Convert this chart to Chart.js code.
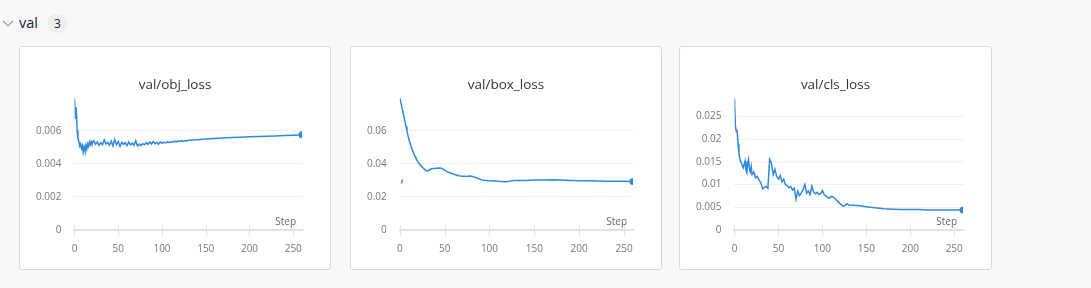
<!DOCTYPE html>
<html><head><meta charset="utf-8">
<script src="https://cdn.jsdelivr.net/npm/chart.js@4.4.1/dist/chart.umd.min.js"></script>
<style>
html,body{margin:0;padding:0;background:#f8f8f8;width:1091px;height:288px;overflow:hidden;font-family:"Open Sans",sans-serif;}
.chev{position:absolute;left:2px;top:19px;}
.grp{position:absolute;left:19px;top:13px;font-size:14.5px;line-height:20px;color:#22223f;}
.badge{position:absolute;left:47px;top:14px;width:21px;height:19px;border-radius:10px;background:#efefef;font-size:12px;line-height:19px;text-align:center;color:#22223f;}
.panel{position:absolute;top:46px;width:312px;height:224px;background:#fff;border:1px solid #dadada;border-radius:3px;box-sizing:border-box;}
.panel canvas{position:absolute;left:0;top:0;}
.ttl{position:absolute;left:0;right:0;top:28px;text-align:center;font-size:13.5px;line-height:18px;color:#333;}
</style></head>
<body>
<svg class="chev" width="12" height="10" viewBox="0 0 12 10"><polyline points="1,2 6,7 11,2" fill="none" stroke="#9a9a9a" stroke-width="1.2"/></svg>
<div class="grp">val</div>
<div class="badge">3</div>
<div class="panel" style="left:19px"><canvas id="c1" width="310" height="222"></canvas><div class="ttl">val/obj_loss</div></div>
<div class="panel" style="left:350px"><canvas id="c2" width="310" height="222"></canvas><div class="ttl">val/box_loss</div></div>
<div class="panel" style="left:679px;width:313px"><canvas id="c3" width="311" height="222"></canvas><div class="ttl">val/cls_loss</div></div>
<script>
const steps = [0,1,2,3,4,5,6,7,8,9,10,11,12,13,14,15,16,17,18,19,20,
22,24,26,28,30,32,34,36,38,40,42,44,46,48,50,52,54,56,58,60,62,64,66,68,70,72,74,76,78,80,
82,84,86,88,90,92,94,96,98,100,102,104,106,108,110,112,114,116,118,120,122,124,126,128,130,
140,150,160,170,180,190,200,210,220,230,240,250,260];

const objLoss = [0.00797,0.00672,0.00742,0.00600,0.00552,0.00535,0.00508,0.00520,0.00492,0.00510,0.00470,0.00502,0.00478,0.00512,0.00488,0.00521,0.00505,0.00530,0.00515,0.00536,0.00522,
0.00540,0.00518,0.00532,0.00512,0.00528,0.00515,0.00545,0.00520,0.00530,0.00512,0.00538,0.00508,0.00548,0.00515,0.00535,0.00505,0.00530,0.00518,0.00528,0.00510,0.00532,0.00515,0.00525,0.00512,0.00540,0.00508,0.00520,0.00510,0.00522,0.00515,
0.00528,0.00518,0.00532,0.00520,0.00535,0.00522,0.00530,0.00518,0.00532,0.00525,0.00530,0.00526,0.00534,0.00528,0.00535,0.00530,0.00537,0.00533,0.00538,0.00535,0.00540,0.00536,0.00541,0.00538,0.00542,
0.00545,0.00550,0.00553,0.00556,0.00559,0.00561,0.00563,0.00565,0.00567,0.00569,0.00571,0.00573,0.00576];

const boxLoss = [0.0798,0.0776,0.0752,0.0727,0.0702,0.0678,0.0652,0.0625,0.0598,0.0574,0.0552,0.0533,0.0515,0.0499,0.0484,0.0470,0.0457,0.0445,0.0434,0.0424,0.0415,
0.0399,0.0386,0.0375,0.0365,0.0357,0.0360,0.0367,0.0370,0.0372,0.0373,0.0374,0.0375,0.0374,0.0370,0.0362,0.0354,0.0350,0.0346,0.0341,0.0338,0.0334,0.0331,0.0328,0.0326,0.0325,0.0325,0.0324,0.0325,0.0326,0.0325,
0.0322,0.0318,0.0314,0.0309,0.0305,0.0302,0.0300,0.0299,0.0298,0.0298,0.0297,0.0297,0.0296,0.0295,0.0294,0.0293,0.0293,0.0292,0.0292,0.0293,0.0295,0.0297,0.0298,0.0299,0.0300,
0.0300,0.0302,0.0303,0.0304,0.0302,0.0300,0.0298,0.0297,0.0296,0.0295,0.0294,0.0294,0.0293];

const boxStraySteps = [2,3];
const boxStrayLoss = [0.0282,0.0305];

const clsLoss = [0.0290,0.0229,0.0218,0.0219,0.0190,0.0170,0.0158,0.0150,0.0148,0.0140,0.0137,0.0145,0.0152,0.0132,0.0126,0.0148,0.0156,0.0134,0.0128,0.0140,0.0122,
0.0128,0.0115,0.0118,0.0110,0.0104,0.0091,0.0094,0.0096,0.0092,0.0156,0.0148,0.0122,0.0134,0.0118,0.0112,0.0120,0.0106,0.0112,0.0100,0.0098,0.0093,0.0096,0.0088,0.0092,0.0068,0.0086,0.0076,0.0082,0.0089,0.0100,
0.0081,0.0086,0.0078,0.0097,0.0084,0.0080,0.0083,0.0078,0.0080,0.0087,0.0078,0.0075,0.0072,0.0070,0.0074,0.0073,0.0070,0.0066,0.0062,0.0058,0.0055,0.0052,0.0055,0.0058,0.0055,
0.0054,0.0051,0.0049,0.0047,0.0046,0.0045,0.0045,0.0045,0.0044,0.0044,0.0044,0.0044,0.0044];

const xTicks = [0,50,100,150,200,250];
const xMax = 260;

const LINE = 'rgb(49,137,220)';

const axisDeco = {
  id:'axisDeco',
  beforeDatasetsDraw(chart){
    const {ctx, chartArea, scales:{x}} = chart;
    ctx.save();
    ctx.strokeStyle='#e2e2e2'; ctx.lineWidth=1;
    x.ticks.forEach(t=>{
      const px=Math.round(x.getPixelForValue(t.value))+0.5;
      ctx.beginPath(); ctx.moveTo(px, chartArea.bottom-5); ctx.lineTo(px, chartArea.bottom+6); ctx.stroke();
    });
    ctx.fillStyle='#666'; ctx.font='10px "Open Sans"'; ctx.textAlign='right'; ctx.textBaseline='middle';
    ctx.fillText('Step', chartArea.right-6, chartArea.bottom-8);
    ctx.restore();
  }
};

const keepMultiples = step => s => { s.ticks = s.ticks.filter(t => Math.abs(t.value/step - Math.round(t.value/step)) < 1e-6); };

function makeChart(id, xs, ys, yMax, yStep, extra){
  const pts = xs.map((x,i)=>({x:x, y:ys[i]}));
  const datasets = [{
    data: pts, borderColor: LINE, backgroundColor: LINE, borderWidth: 1.5, tension: 0,
    pointRadius: ctx => ctx.dataIndex === pts.length-1 ? 3.5 : 0,
    pointHoverRadius: 0, pointBorderWidth: 0
  }];
  if (extra) datasets.push({data: extra, borderColor: LINE, borderWidth: 1.5, pointRadius: 0});
  new Chart(document.getElementById(id), {
    type: 'line',
    data: { datasets },
    plugins: [axisDeco],
    options: {
      responsive: false, animation: false, events: [],
      layout: { padding: { top: 51, left: 3, right: 28, bottom: 0 } },
      plugins: { legend: {display:false}, tooltip: {enabled:false}, title: {display:false} },
      scales: {
        x: {
          type: 'linear', min: 0, max: xMax,
          afterBuildTicks: s => { s.ticks = xTicks.map(v => ({value: v})); },
          afterFit: s => { s.height = 39; },
          grid: { display: false },
          border: { display: true, color: '#e2e2e2', width: 2 },
          ticks: { padding: 5, color: '#777', font: {family: 'Open Sans', size: 10}, maxRotation: 0, autoSkip: false }
        },
        y: {
          type: 'linear', min: 0, max: yMax,
          afterBuildTicks: keepMultiples(yStep),
          grid: { color: c => c.tick && c.tick.value === 0 ? 'rgba(0,0,0,0)' : '#efefef', drawTicks: false, lineWidth: 1 },
          border: { display: false },
          ticks: { stepSize: yStep, padding: 13, color: '#777', font: {family: 'Open Sans', size: 10},
            callback: v => String(parseFloat(Number(v).toFixed(6))) }
        }
      }
    }
  });
}

makeChart('c1', steps, objLoss, 0.00798, 0.002);
makeChart('c2', steps, boxLoss, 0.0798, 0.02, boxStraySteps.map((x,i)=>({x:x, y:boxStrayLoss[i]})));
makeChart('c3', steps, clsLoss, 0.0291, 0.005);
</script>
</body></html>
